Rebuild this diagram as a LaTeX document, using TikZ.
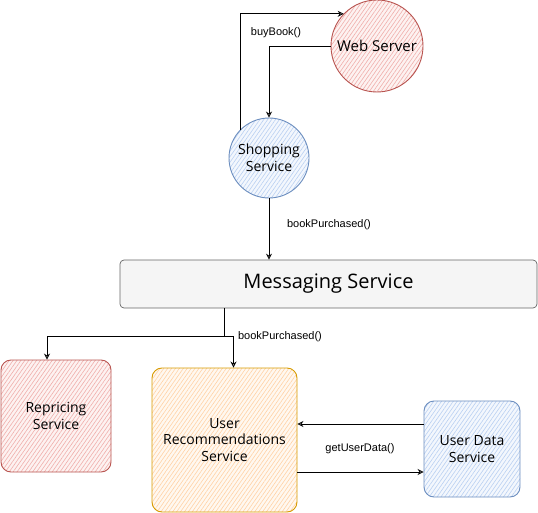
\documentclass[tikz,border=0pt]{standalone}
\usepackage{fontspec}
\setmainfont{Liberation Sans}
\newfontfamily\handfont{Open Sans}
\usetikzlibrary{patterns.meta,arrows.meta}
\definecolor{redline}{HTML}{B85450}
\definecolor{redfill}{HTML}{FDF2F1}
\definecolor{redhatch}{HTML}{F0AEAB}
\definecolor{blueline}{HTML}{6C8EBF}
\definecolor{bluefill}{HTML}{F3F7FD}
\definecolor{bluehatch}{HTML}{B9D0F2}
\definecolor{orangeline}{HTML}{D79B00}
\definecolor{orangefill}{HTML}{FFF8F0}
\definecolor{orangehatch}{HTML}{FFD2A6}
\definecolor{msgline}{HTML}{666666}
\definecolor{msgfill}{HTML}{F5F5F5}

\tikzset{
  svc/.style={draw=#1line, line width=0.9pt, preaction={fill=#1fill},
    pattern={Lines[angle=55,distance=3.2pt,line width=0.6pt]}, pattern color=#1hatch,
    inner sep=0pt, align=center, font=\handfont\fontsize{14}{16.5}\selectfont},
  ball/.style={svc=#1, circle},
  box/.style={svc=#1, rectangle, rounded corners=10pt},
  call/.style={font=\fontsize{11}{13}\selectfont},
  link/.style={line width=0.8pt, -{Stealth[open,length=6pt,width=6pt]}}
}

\begin{document}
\begin{tikzpicture}[x=1pt,y=-1pt]
\useasboundingbox (0,0) rectangle (538,513);

\node[ball=red, minimum size=92pt, font=\handfont\fontsize{15}{18}\selectfont] (web) at (377,46) {Web Server};
\node[ball=blue, minimum size=80pt] (shop) at (269,158) {Shopping\\Service};
\node[draw=msgline, fill=msgfill, line width=0.7pt, rounded corners=4pt,
      minimum width=417pt, minimum height=48pt, font=\handfont\fontsize{20}{24}\selectfont]
      (msg) at (328.5,284) {Messaging Service};
\node[box=red, minimum width=110pt, minimum height=112pt] (rep) at (56,416) {Repricing\\Service};
\node[box=orange, minimum width=145pt, minimum height=144pt] (recs) at (224.5,440) {User\\Recommendations\\Service};
\node[box=blue, minimum width=96pt, minimum height=96pt] (udata) at (472,449) {User Data\\Service};

\coordinate (split) at (224,336);

\draw[link] (shop.136) |- (web.136);
\draw[link] (web.west) -| (shop.north);
\draw[link] (shop.south) -- (shop.south |- msg.north);
\draw[line width=0.8pt] (split |- msg.south) -- (split);
\draw[link] (split) -| ([xshift=-9pt]rep.north);
\draw[link] (split) -| ([xshift=9pt]recs.north);
\draw[link] ([yshift=25pt]udata.west) -- ([yshift=25pt]udata.west -| recs.east);
\draw[link] ([yshift=-23pt]recs.east |- udata.west) -- ([yshift=-23pt]udata.west);

\node[call] (lbuy) at (276,33) {buyBook()};
\node[call] (lpub) at (329,225) {bookPurchased()};
\node[call] (lsub) at (280,337) {bookPurchased()};
\node[call] (lget) at (360,449) {getUserData()};
\end{tikzpicture}
\end{document}
